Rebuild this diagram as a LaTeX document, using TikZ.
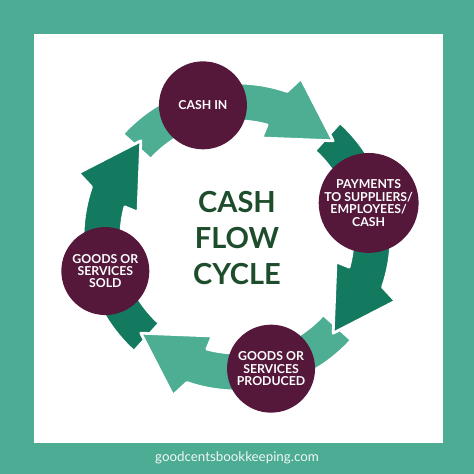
\documentclass[tikz,border=0pt]{standalone}
\usepackage{fontspec}
\setmainfont{Lato}
\definecolor{frame}{HTML}{4CAC94}
\definecolor{lite}{HTML}{4DAE94}
\definecolor{deep}{HTML}{137A60}
\definecolor{plum}{HTML}{55183B}
\definecolor{ink}{HTML}{1E4D2C}

\begin{document}
\begin{tikzpicture}
[x=0.02cm,y=0.02cm
,stage/.style={circle,fill=plum,minimum size=1.76cm,inner sep=0pt,text=white,align=center,font=\bfseries\fontsize{7.0}{7.1}\selectfont}
,band/.style={draw=white,line width=1.6pt,line join=round}
,litearr/.style={band,fill=lite}
,deeparr/.style={band,fill=deep}
,title/.style={text=ink,align=center,font=\bfseries\fontsize{16.5}{20.5}\selectfont}
]
\useasboundingbox (-237,-237) rectangle (237,237);
\fill[frame] (-237,-237) rectangle (237,237);
\fill[white] (-203,-206) rectangle (206,203);
% the four curved arrows, one turned by 90 degrees each
\filldraw[deeparr,rotate=90] (138:116) -- (138:154) arc[start angle=138,end angle=71,radius=154] -- (68:171) -- (45:136) -- (76:102) -- (75:116) arc[start angle=75,end angle=138,radius=116] -- cycle;
\filldraw[litearr,rotate=180] (138:116) -- (138:154) arc[start angle=138,end angle=71,radius=154] -- (68:171) -- (45:136) -- (76:102) -- (75:116) arc[start angle=75,end angle=138,radius=116] -- cycle;
\filldraw[deeparr,rotate=-90] (138:116) -- (138:154) arc[start angle=138,end angle=71,radius=154] -- (68:171) -- (45:136) -- (76:102) -- (75:116) arc[start angle=75,end angle=138,radius=116] -- cycle;
\filldraw[litearr] (138:116) -- (138:154) arc[start angle=138,end angle=71,radius=154] -- (68:171) -- (45:136) -- (76:102) -- (75:116) arc[start angle=75,end angle=138,radius=116] -- cycle;
% left head lies over the tail of the top arrow
\begin{scope}
\clip (0,0) -- (128:220) arc[start angle=128,end angle=172,radius=220] -- cycle;
\filldraw[deeparr,rotate=90] (138:116) -- (138:154) arc[start angle=138,end angle=71,radius=154] -- (68:171) -- (45:136) -- (76:102) -- (75:116) arc[start angle=75,end angle=138,radius=116] -- cycle;
\end{scope}
\node[stage] (cashin) at (104.5:136) {CASH IN};
\node[stage] (pay) at (14.5:136) {PAYMENTS\\TO SUPPLIERS/\\EMPLOYEES/\\CASH};
\node[stage] (made) at (-75.5:136) {GOODS OR\\SERVICES\\PRODUCED};
\node[stage] (sold) at (-165.5:136) {GOODS OR\\SERVICES\\SOLD};
\node[title] (ttl) at (0,-1) {CASH\\FLOW\\CYCLE};
\node[text=white!92!frame,font=\fontsize{7.6}{9}\selectfont] (site) at (0,-221) {goodcentsbookkeeping.com};
\end{tikzpicture}
\end{document}
